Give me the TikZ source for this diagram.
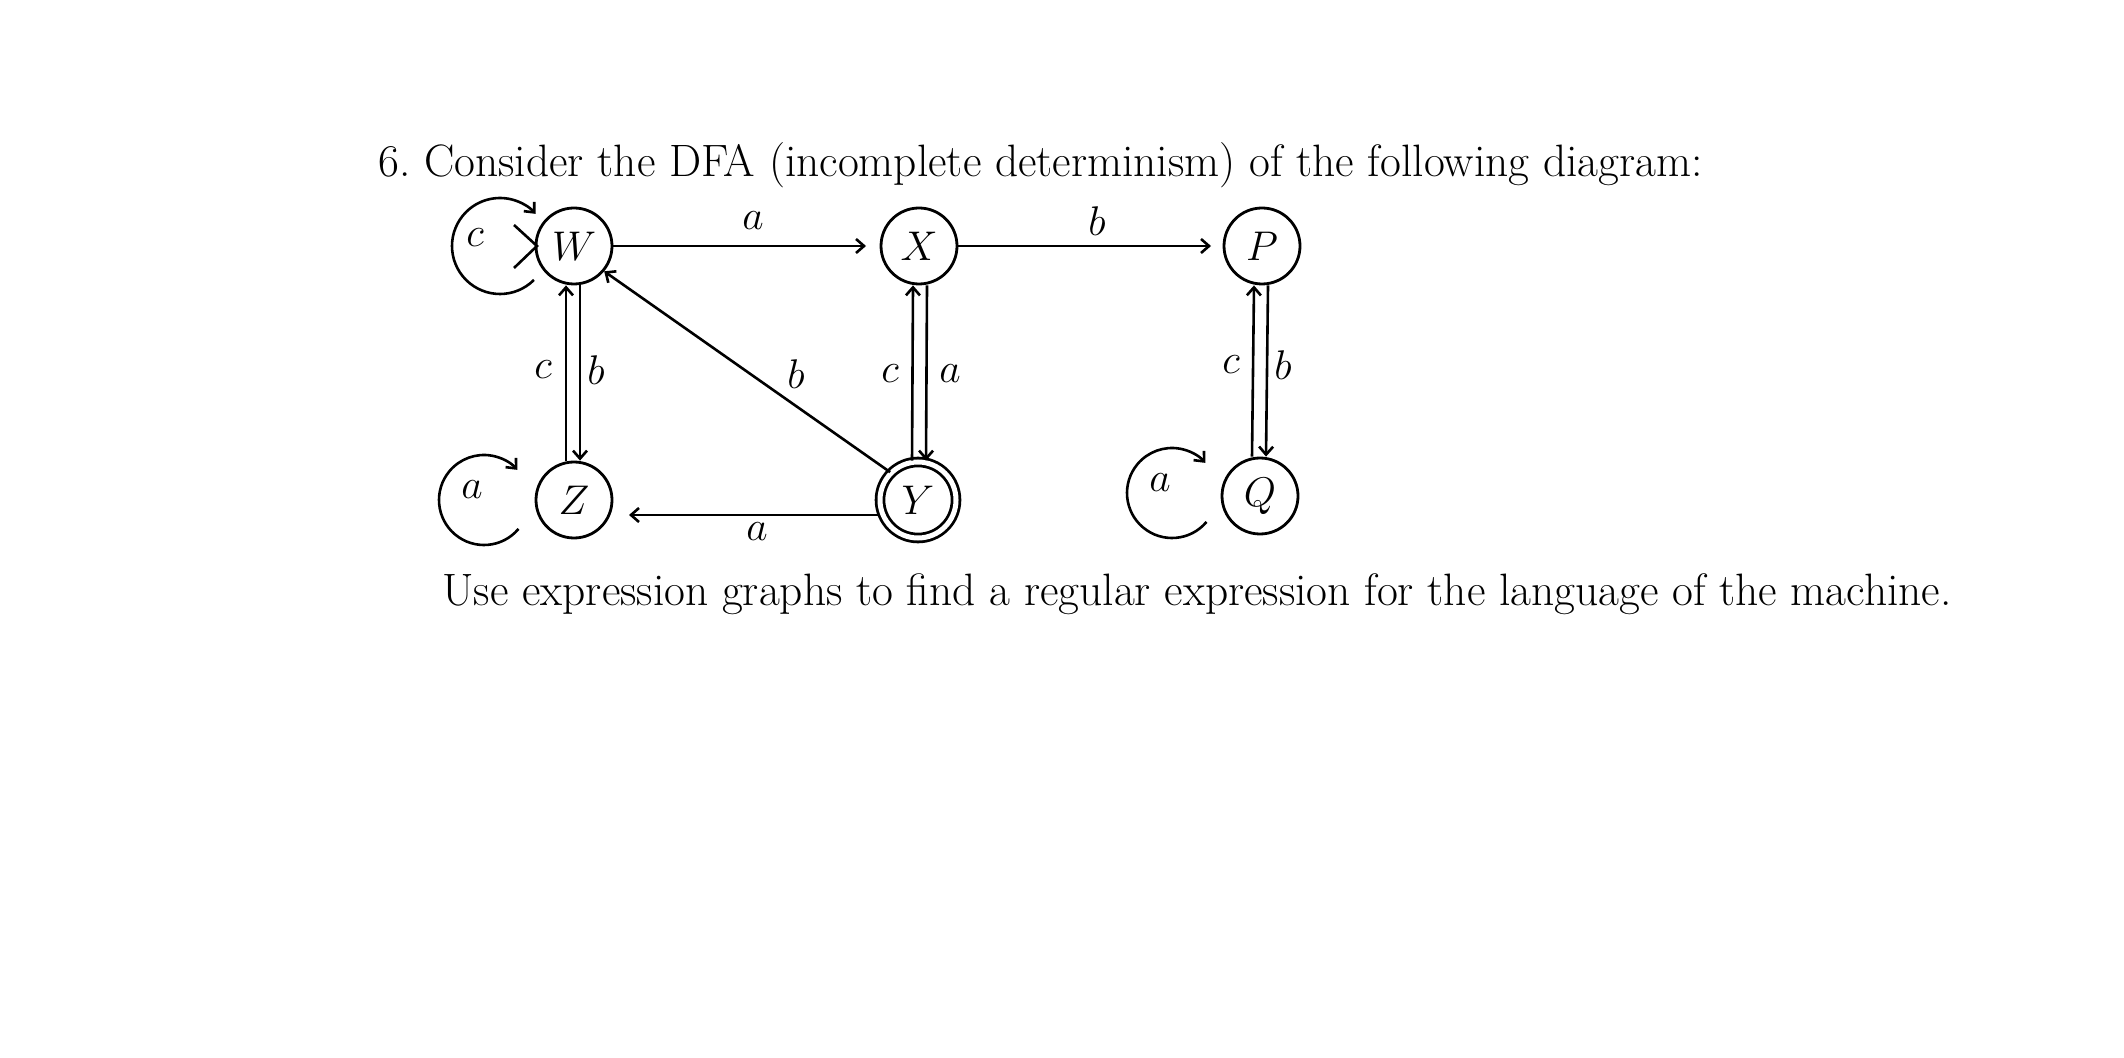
\documentclass[tikz,border=0pt]{standalone}
\usetikzlibrary{arrows.meta}
\begin{document}
\begin{tikzpicture}[x=0.5pt,y=-0.5pt,
  st/.style={circle,draw,line width=1.4pt,minimum size=38pt,inner sep=0pt,font=\fontsize{21}{24}\selectfont},
  ed/.style={line width=1.3pt,-{Straight Barb[length=4pt,width=7pt]}},
  lb/.style={font=\fontsize{21}{24}\selectfont},
  txt/.style={font=\fontsize{22.7}{26}\selectfont,anchor=base west,inner sep=0pt}]
\useasboundingbox (0,0) rectangle (2124,1058);
\node[txt] (t1) at (378,177) {6.\ Consider the DFA (incomplete determinism) of the following diagram:};
\node[txt] (t2) at (442,605) {Use expression graphs to find a regular expression for the language of the machine.};
\node[st] (W) at (574,246) {$W$};
\node[st] (X) at (919,246) {$X$};
\node[st] (P) at (1262,246) {$P$};
\node[st] (Z) at (574,500) {$Z$};
\node[st,double,double distance=2.5pt] (Y) at (918,500) {$Y$};
\node[st] (Q) at (1260,496) {$Q$};
% edges
\coordinate (xa) at (866,246);
\coordinate (pb) at (1211,246);
\draw[ed] (W.east) -- (xa);
\draw[ed] (X.east) -- (pb);
\node[lb] (la) at (753,221) {$a$};
\node[lb] (lb1) at (1097,221) {$b$};
\draw[ed] ([xshift=-4pt]Z.north) -- ([xshift=-4pt]W.south);
\draw[ed] ([xshift=3pt]W.south) -- ([xshift=3pt]Z.north);
\node[lb] (l2) at (543,370) {$c$};
\node[lb] (l3) at (596,370) {$b$};
\draw[ed] ([xshift=-3pt]Y.north) -- ([xshift=-3pt]X.south);
\draw[ed] ([xshift=4pt]X.south) -- ([xshift=4pt]Y.north);
\node[lb] (l4) at (890,374) {$c$};
\node[lb] (l5) at (950,374) {$a$};
\draw[ed] ([xshift=-4pt]Q.north) -- ([xshift=-4pt]P.south);
\draw[ed] ([xshift=3pt]P.south) -- ([xshift=3pt]Q.north);
\node[lb] (l6) at (1231,365) {$c$};
\node[lb] (l7) at (1283,365) {$b$};
\draw[ed] (Y.135) -- (W.-40);
\node[lb] (l8) at (796,374) {$b$};
\draw[ed] (Y.west |- 0,515) -- (629,515);
\node[lb] (l9) at (757,532) {$a$};
% loops
\draw[ed] (500,246) ++(45:48) arc[start angle=45,end angle=318,radius=48];
\node[lb] (l10) at (475,238) {$c$};
\draw[line width=1.3pt] (514,225) -- (537,246) -- (514,268);
\draw[ed] (484,500) ++(40:45) arc[start angle=40,end angle=318,radius=45];
\node[lb] (l11) at (472,490) {$a$};
\draw[ed] (1172,493) ++(40:45) arc[start angle=40,end angle=318,radius=45];
\node[lb] (l12) at (1160,483) {$a$};
\end{tikzpicture}
\end{document}
